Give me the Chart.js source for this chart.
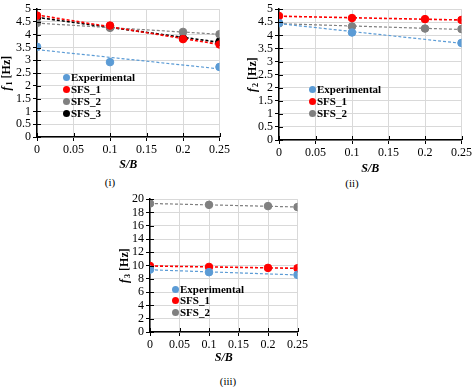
<!DOCTYPE html>
<html>
<head>
<meta charset="utf-8">
<script src="https://cdn.jsdelivr.net/npm/chart.js@4.4.1/dist/chart.umd.min.js"></script>
<style>
  body { margin: 0; background: #fff; }
  #wrap { position: relative; width: 474px; height: 387px; overflow: hidden; font-family: "Liberation Serif", serif; color: #000; }
  canvas { position: absolute; }
  .cap { position: absolute; font-size: 11px; color: #000; transform: translate(-50%, -50%); }
  .leg { position: absolute; font-size: 11px; font-weight: bold; line-height: 12px; }
  .leg div { height: 12px; white-space: nowrap; }
  .leg span { display: inline-block; width: 7px; height: 7px; border-radius: 50%; margin-right: 1px; vertical-align: 0px; }
</style>
</head>
<body>
<div id="wrap">
  <canvas id="c1"></canvas>
  <canvas id="c2"></canvas>
  <canvas id="c3"></canvas>
  <div class="cap" style="left:110px;top:182px">(i)</div>
  <div class="cap" style="left:352px;top:183px">(ii)</div>
  <div class="cap" style="left:228px;top:381px">(iii)</div>
  <div class="leg" id="leg1" style="left:63px;top:71px"></div>
  <div class="leg" id="leg2" style="left:309px;top:83px"></div>
  <div class="leg" id="leg3" style="left:172px;top:284px"></div>
</div>
<script>
// S/B values on the x axis
const sb = [0, 0.1, 0.2, 0.25];

// f1 (chart i)
const f1Exp = [3.53, 2.93, null, 2.74];
const f1Sfs1 = [4.75, 4.36, 3.83, 3.62];
const f1Sfs2 = [4.46, 4.27, 4.11, 4.02];
const f1Sfs3 = [4.68, 4.30, 3.86, 3.73];

// f2 (chart ii)
const f2Exp = [4.47, 4.11, null, 3.71];
const f2Sfs1 = [4.74, 4.66, 4.62, 4.59];
const f2Sfs2 = [4.46, 4.34, 4.26, 4.24];

// f3 (chart iii)
const f3Exp = [9.40, 9.01, null, 8.61];
const f3Sfs1 = [9.95, 9.80, 9.65, 9.60];
const f3Sfs2 = [19.35, 19.15, 18.96, 18.81];

const seriesNames = ["Experimental", "SFS_1", "SFS_2", "SFS_3"];
const seriesColors = ["#5b9bd5", "#ff0000", "#808080", "#000000"];
const xTitle = "S/B";
const yUnit = " [Hz]";

const serif = "'Liberation Serif', 'Times New Roman', serif";

// least squares line through the points (Excel linear trendline)
function trend(ys) {
  const pts = sb.map((x, i) => [x, ys[i]]).filter(p => p[1] !== null);
  const n = pts.length;
  const mx = pts.reduce((s, p) => s + p[0], 0) / n;
  const my = pts.reduce((s, p) => s + p[1], 0) / n;
  let sxy = 0, sxx = 0;
  pts.forEach(p => { sxy += (p[0] - mx) * (p[1] - my); sxx += (p[0] - mx) ** 2; });
  const b = sxy / sxx, a = my - b * mx;
  return [{ x: sb[0], y: a }, { x: sb[sb.length - 1], y: a + b * sb[sb.length - 1] }];
}

// cross tick marks inside the plot + y title with subscript
const axisDecor = {
  id: "axisDecor",
  afterDraw(chart, args, opts) {
    const { ctx, chartArea, scales } = chart;
    ctx.save();
    ctx.strokeStyle = "#000";
    ctx.lineWidth = 1;
    ctx.beginPath();
    scales.y.ticks.forEach((t, i) => {
      const y = Math.round(scales.y.getPixelForTick(i)) + 0.5;
      ctx.moveTo(chartArea.left, y);
      ctx.lineTo(chartArea.left + 4, y);
    });
    scales.x.ticks.forEach((t, i) => {
      const x = Math.round(scales.x.getPixelForTick(i)) + 0.5;
      ctx.moveTo(x, chartArea.bottom);
      ctx.lineTo(x, chartArea.bottom - 4);
    });
    ctx.stroke();

    // y axis title: italic f, subscript index, [Hz]
    const fMain = "italic bold 12px " + serif;
    const fSub = "bold 8px " + serif;
    const fRest = "bold 12px " + serif;
    ctx.font = fMain; const w1 = ctx.measureText("f").width + 1;
    ctx.font = fSub; const w2 = ctx.measureText(opts.sub).width;
    ctx.font = fRest; const w3 = ctx.measureText(yUnit).width;
    const total = w1 + w2 + w3;
    ctx.translate(opts.titleX, (chartArea.top + chartArea.bottom) / 2);
    ctx.rotate(-Math.PI / 2);
    ctx.fillStyle = "#000";
    ctx.textBaseline = "middle";
    let x = -total / 2;
    ctx.font = fMain; ctx.fillText("f", x, 0); x += w1;
    ctx.font = fSub; ctx.fillText(opts.sub, x, 3); x += w2;
    ctx.font = fRest; ctx.fillText(yUnit, x, 0);
    ctx.restore();
  }
};

function fmt(v) { return String(+Number(v).toFixed(2)); }

function makeChart(id, cfg) {
  const canvas = document.getElementById(id);
  canvas.width = cfg.w; canvas.height = cfg.h;
  canvas.style.left = cfg.left + "px"; canvas.style.top = cfg.top + "px";
  canvas.style.width = cfg.w + "px"; canvas.style.height = cfg.h + "px";

  const datasets = [];
  cfg.series.forEach((ys, i) => {
    datasets.push({
      label: seriesNames[i],
      data: sb.map((x, j) => ({ x: x, y: ys[j] })).filter(p => p.y !== null),
      backgroundColor: seriesColors[i],
      borderColor: seriesColors[i],
      pointRadius: 3.8,
      pointHoverRadius: 3.8,
      showLine: false,
      order: 0
    });
  });
  cfg.series.forEach((ys, i) => {
    datasets.push({
      label: seriesNames[i] + " trend",
      data: trend(ys),
      borderColor: seriesColors[i],
      borderWidth: i === 0 || i === 2 ? 1.2 : 1.6,
      borderDash: [3, 2],
      pointRadius: 0,
      showLine: true,
      order: 1
    });
  });

  new Chart(canvas, {
    type: "scatter",
    data: { datasets },
    options: {
      responsive: false,
      animation: false,
      layout: { padding: { left: 0, top: cfg.padTop, right: cfg.padRight, bottom: 0 } },
      plugins: {
        legend: { display: false },
        tooltip: { enabled: false },
        axisDecor: { sub: cfg.sub, titleX: cfg.titleX }
      },
      scales: {
        x: {
          type: "linear",
          min: 0, max: 0.25,
          afterFit: s => { s.height = cfg.xH; },
          ticks: { stepSize: 0.05, autoSkip: false, maxRotation: 0, padding: 2, color: "#000",
                   font: { family: serif, size: 12 }, callback: fmt },
          grid: { color: "#d9d9d9", tickColor: "#000", tickLength: 4, lineWidth: 1 },
          border: { color: "#000", width: 1.5 },
          title: { display: true, text: xTitle, color: "#000", padding: 0,
                   font: { family: serif, size: 12, weight: "bold", style: "italic" } }
        },
        y: {
          min: 0, max: cfg.yMax,
          afterFit: s => { s.width = cfg.yW; },
          ticks: { stepSize: cfg.yStep, autoSkip: false, padding: 2, color: "#000",
                   font: { family: serif, size: 12 }, callback: fmt },
          grid: { color: "#d9d9d9", tickColor: "#000", tickLength: 4, lineWidth: 1 },
          border: { color: "#000", width: 1.5 }
        }
      }
    },
    plugins: [axisDecor]
  });

  // legend as html, built from the series
  const leg = document.getElementById(cfg.legend);
  leg.innerHTML = cfg.series.map((s, i) =>
    `<div><span style="background:${seriesColors[i]}"></span>${seriesNames[i]}</div>`).join("");
  if (cfg.legRow) leg.querySelectorAll("div").forEach(d => { d.style.height = cfg.legRow + "px"; d.style.lineHeight = cfg.legRow + "px"; });
}

makeChart("c1", { left: 0, top: 0, w: 232, h: 172, padTop: 7, padRight: 11, xH: 35, yW: 37,
  yMax: 5, yStep: 0.5, sub: "1", titleX: 7, legend: "leg1",
  series: [f1Exp, f1Sfs1, f1Sfs2, f1Sfs3] });

makeChart("c2", { left: 240, top: 0, w: 234, h: 176, padTop: 6, padRight: 10, xH: 36, yW: 39,
  yMax: 5, yStep: 0.5, sub: "2", titleX: 13, legend: "leg2",
  series: [f2Exp, f2Sfs1, f2Sfs2] });

makeChart("c3", { left: 118, top: 190, w: 192, h: 175, padTop: 7, padRight: 12, xH: 33, yW: 32,
  yMax: 20, yStep: 2, sub: "3", titleX: 7, legend: "leg3", legRow: 11.4,
  series: [f3Exp, f3Sfs1, f3Sfs2] });
</script>
</body>
</html>
